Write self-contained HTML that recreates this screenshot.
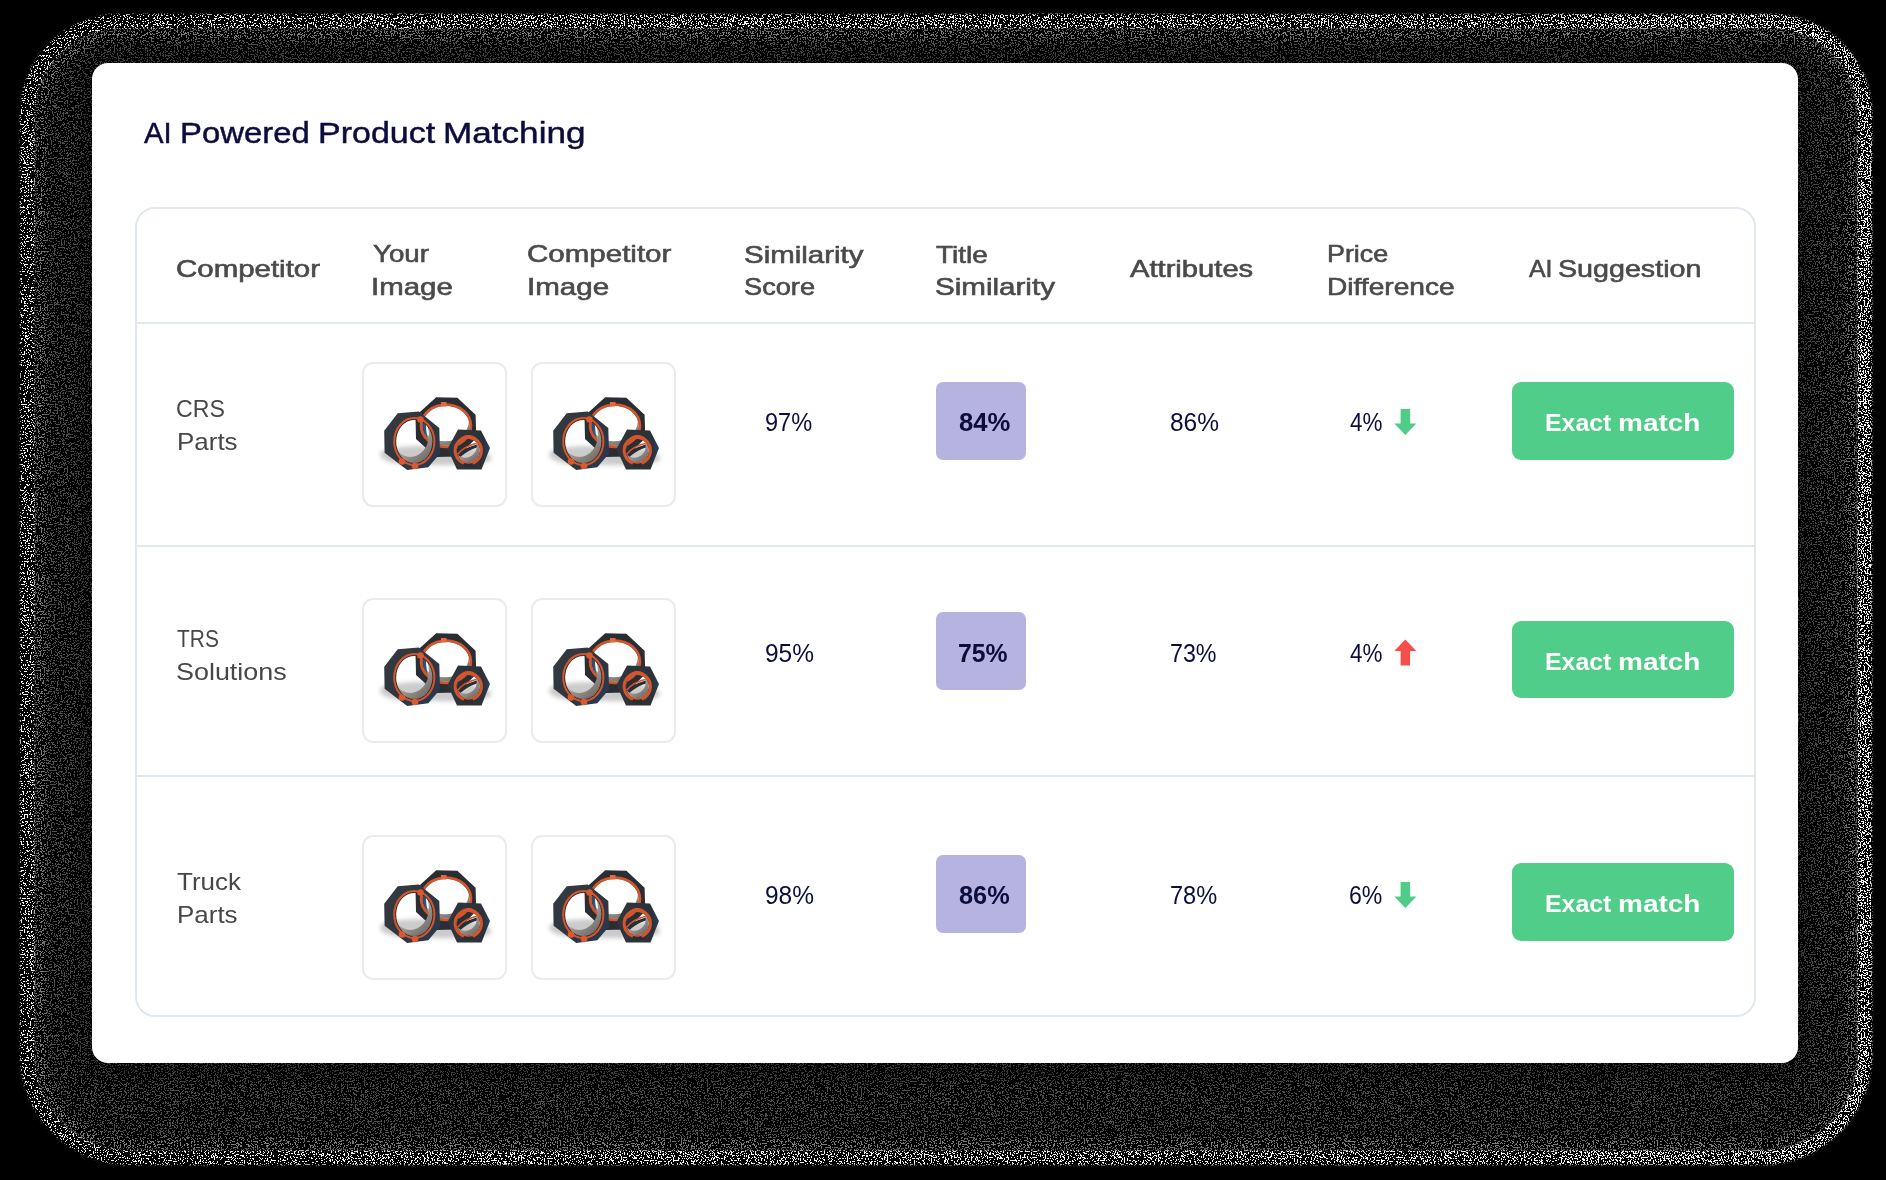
<!DOCTYPE html>
<html><head><meta charset="utf-8"><style>
html,body{margin:0;padding:0;background:#000;}
body{width:1886px;height:1180px;position:relative;overflow:hidden;font-family:"Liberation Sans",sans-serif;}
.card{position:absolute;left:92px;top:63px;width:1706px;height:1000px;background:#fff;border-radius:16px;}
.tbl{position:absolute;left:135px;top:207px;width:1621px;height:810px;box-sizing:border-box;border:2px solid #e2e8f0;border-radius:20px;}
.hl{position:absolute;left:137px;width:1617px;height:2px;background:#e2e8f0;}
.box{position:absolute;width:145px;height:145px;box-sizing:border-box;border:2px solid #e8ecef;border-radius:11px;background:#fff;}
.nut{position:absolute;}
.badge{position:absolute;left:935.5px;width:90.5px;height:78px;background:#b7b3e1;border-radius:7px;}
.btn{position:absolute;left:1512px;width:222px;height:77.7px;background:#51cd8a;border-radius:9px;}
.arr{position:absolute;}
.t{position:absolute;white-space:nowrap;line-height:1;transform-origin:0 0;font-family:"Liberation Sans",sans-serif;}
</style></head><body>
<svg style="position:absolute;left:0;top:0" width="1886" height="1180" viewBox="0 0 1886 1180">
<defs><clipPath id="zc0"><rect x="0" y="0" width="330" height="1180"/></clipPath><clipPath id="zc1"><rect x="330" y="0" width="1230" height="1180"/></clipPath><clipPath id="zc2"><rect x="1560" y="0" width="326" height="1180"/></clipPath><filter id="nzB" filterUnits="userSpaceOnUse" x="0" y="0" width="1886" height="1180" color-interpolation-filters="sRGB">
<feTurbulence type="fractalNoise" baseFrequency="0.7" numOctaves="2" seed="11" result="t"/>
<feColorMatrix in="t" type="matrix" values="0 0 0 0 0  0 0 0 0 0  0 0 0 0 0  1 0 0 0 0" result="na"/>
<feComponentTransfer in="na" result="mask"><feFuncA type="discrete" tableValues="0 0 0 0 0 0 0 0 0 0 0 0 0 0 0 0 0 0 0 0 0 0 0 1 1 1 1 1 1 1 1 1 1 1 1 1 1 1 1 1"/></feComponentTransfer>
<feComposite in="SourceGraphic" in2="mask" operator="in"/></filter><filter id="sb0" x="-5%" y="-5%" width="110%" height="110%" color-interpolation-filters="sRGB"><feGaussianBlur stdDeviation="2.5"/></filter><filter id="sb1" x="-5%" y="-5%" width="110%" height="110%" color-interpolation-filters="sRGB"><feGaussianBlur stdDeviation="4"/></filter><filter id="sb2" x="-5%" y="-5%" width="110%" height="110%" color-interpolation-filters="sRGB"><feGaussianBlur stdDeviation="8"/></filter><filter id="sbw" x="-5%" y="-5%" width="110%" height="110%" color-interpolation-filters="sRGB"><feGaussianBlur stdDeviation="1.2"/></filter><filter id="nzA0" filterUnits="userSpaceOnUse" x="0" y="0" width="1886" height="1180" color-interpolation-filters="sRGB">
<feTurbulence type="fractalNoise" baseFrequency="0.7" numOctaves="2" seed="5" result="t"/>
<feColorMatrix in="t" type="matrix" values="0 0 0 0 0  0 0 0 0 0  0 0 0 0 0  1 0 0 0 0" result="na"/>
<feComponentTransfer in="na" result="mask"><feFuncA type="discrete" tableValues="0 0 0 0 0 0 0 0 0 0 0 0 0 0 0 0 0 0 0 0 0 0 0 0 1 1 1 1 1 1 1 1 1 1 1 1 1 1 1 1"/></feComponentTransfer>
<feComposite in="SourceGraphic" in2="mask" operator="in"/></filter><filter id="nzA1" filterUnits="userSpaceOnUse" x="0" y="0" width="1886" height="1180" color-interpolation-filters="sRGB">
<feTurbulence type="fractalNoise" baseFrequency="0.7" numOctaves="2" seed="3" result="t"/>
<feColorMatrix in="t" type="matrix" values="0 0 0 0 0  0 0 0 0 0  0 0 0 0 0  1 0 0 0 0" result="na"/>
<feComponentTransfer in="na" result="mask"><feFuncA type="discrete" tableValues="0 0 0 0 0 0 0 0 0 0 0 0 0 0 0 0 0 0 0 0 0 0 0 1 1 1 1 1 1 1 1 1 1 1 1 1 1 1 1 1"/></feComponentTransfer>
<feComposite in="SourceGraphic" in2="mask" operator="in"/></filter><filter id="nzA2" filterUnits="userSpaceOnUse" x="0" y="0" width="1886" height="1180" color-interpolation-filters="sRGB">
<feTurbulence type="fractalNoise" baseFrequency="0.7" numOctaves="2" seed="17" result="t"/>
<feColorMatrix in="t" type="matrix" values="0 0 0 0 0  0 0 0 0 0  0 0 0 0 0  1 0 0 0 0" result="na"/>
<feComponentTransfer in="na" result="mask"><feFuncA type="discrete" tableValues="0 0 0 0 0 0 0 0 0 0 0 0 0 0 0 0 0 0 0 0 0 0 1 1 1 1 1 1 1 1 1 1 1 1 1 1 1 1 1 1"/></feComponentTransfer>
<feComposite in="SourceGraphic" in2="mask" operator="in"/></filter></defs>
<g clip-path="url(#zc0)"><g filter="url(#nzA0)"><path d="M120.0,14.0 H1772.0 A100.0,100.0 0 0 1 1872.0,114.0 V1055.0 A110.0,110.0 0 0 1 1762.0,1165.0 H130.0 A110.0,110.0 0 0 1 20.0,1055.0 V114.0 A100.0,100.0 0 0 1 120.0,14.0 Z M121.0,29.0 H1771.0 A86.0,86.0 0 0 1 1857.0,115.0 V1056.0 A94.0,94.0 0 0 1 1763.0,1150.0 H129.0 A94.0,94.0 0 0 1 35.0,1056.0 V115.0 A86.0,86.0 0 0 1 121.0,29.0 Z" fill-rule="evenodd" fill="#fff" filter="url(#sbw)"/></g></g><g clip-path="url(#zc1)"><g filter="url(#nzA1)"><path d="M120.0,14.0 H1772.0 A100.0,100.0 0 0 1 1872.0,114.0 V1055.0 A110.0,110.0 0 0 1 1762.0,1165.0 H130.0 A110.0,110.0 0 0 1 20.0,1055.0 V114.0 A100.0,100.0 0 0 1 120.0,14.0 Z M121.0,29.0 H1771.0 A86.0,86.0 0 0 1 1857.0,115.0 V1056.0 A94.0,94.0 0 0 1 1763.0,1150.0 H129.0 A94.0,94.0 0 0 1 35.0,1056.0 V115.0 A86.0,86.0 0 0 1 121.0,29.0 Z" fill-rule="evenodd" fill="#fff" filter="url(#sbw)"/></g></g><g clip-path="url(#zc2)"><g filter="url(#nzA2)"><path d="M120.0,14.0 H1772.0 A100.0,100.0 0 0 1 1872.0,114.0 V1055.0 A110.0,110.0 0 0 1 1762.0,1165.0 H130.0 A110.0,110.0 0 0 1 20.0,1055.0 V114.0 A100.0,100.0 0 0 1 120.0,14.0 Z M121.0,29.0 H1771.0 A86.0,86.0 0 0 1 1857.0,115.0 V1056.0 A94.0,94.0 0 0 1 1763.0,1150.0 H129.0 A94.0,94.0 0 0 1 35.0,1056.0 V115.0 A86.0,86.0 0 0 1 121.0,29.0 Z" fill-rule="evenodd" fill="#fff" filter="url(#sbw)"/></g></g><g filter="url(#nzB)"><path d="M121.0,29.0 H1771.0 A86.0,86.0 0 0 1 1857.0,115.0 V1056.0 A94.0,94.0 0 0 1 1763.0,1150.0 H129.0 A94.0,94.0 0 0 1 35.0,1056.0 V115.0 A86.0,86.0 0 0 1 121.0,29.0 Z" fill="rgb(138,138,138)" filter="url(#sb0)"/><path d="M122.0,38.0 H1770.0 A78.0,78.0 0 0 1 1848.0,116.0 V1056.0 A84.0,84.0 0 0 1 1764.0,1140.0 H128.0 A84.0,84.0 0 0 1 44.0,1056.0 V116.0 A78.0,78.0 0 0 1 122.0,38.0 Z" fill="rgb(77,77,77)" filter="url(#sb1)"/><path d="M108.0,52.0 H1782.0 A30.0,30.0 0 0 1 1812.0,82.0 V1044.0 A36.0,36.0 0 0 1 1776.0,1080.0 H114.0 A36.0,36.0 0 0 1 78.0,1044.0 V82.0 A30.0,30.0 0 0 1 108.0,52.0 Z" fill="rgb(54,54,54)" filter="url(#sb2)"/></g>
</svg>
<div class="card"></div>
<div class="tbl"></div>
<div class="hl" style="top:322px"></div>
<div class="hl" style="top:544.5px"></div>
<div class="hl" style="top:775px"></div>
<div class="box" style="left:362.0px;top:361.5px"></div><svg class="nut" style="left:362.0px;top:361.5px" width="145" height="145" viewBox="0 0 145 145"><use href="#nut"/></svg><div class="box" style="left:530.5px;top:361.5px"></div><svg class="nut" style="left:530.5px;top:361.5px" width="145" height="145" viewBox="0 0 145 145"><use href="#nut"/></svg><div class="box" style="left:362.0px;top:598.3px"></div><svg class="nut" style="left:362.0px;top:598.3px" width="145" height="145" viewBox="0 0 145 145"><use href="#nut"/></svg><div class="box" style="left:530.5px;top:598.3px"></div><svg class="nut" style="left:530.5px;top:598.3px" width="145" height="145" viewBox="0 0 145 145"><use href="#nut"/></svg><div class="box" style="left:362.0px;top:835.0px"></div><svg class="nut" style="left:362.0px;top:835.0px" width="145" height="145" viewBox="0 0 145 145"><use href="#nut"/></svg><div class="box" style="left:530.5px;top:835.0px"></div><svg class="nut" style="left:530.5px;top:835.0px" width="145" height="145" viewBox="0 0 145 145"><use href="#nut"/></svg>
<div class="badge" style="top:381.7px"></div><div class="badge" style="top:612.3px"></div><div class="badge" style="top:854.8px"></div>
<div class="btn" style="top:382.1px"></div><div class="btn" style="top:620.5px"></div><div class="btn" style="top:863.3px"></div>
<svg class="arr" style="left:1394px;top:408.8px" width="23" height="27" viewBox="0 0 23 27"><path d="M6.6 0H16.1V14.6H22.4L11.3 26.1L0.3 14.6H6.6Z" fill="#4fcd88"/></svg><svg class="arr" style="left:1394px;top:639.2px" width="23" height="27" viewBox="0 0 23 27"><path d="M6.6 26.6H16.1V12H22.4L11.3 0.5L0.3 12H6.6Z" fill="#f74d4d"/></svg><svg class="arr" style="left:1394px;top:882.0px" width="23" height="27" viewBox="0 0 23 27"><path d="M6.6 0H16.1V14.6H22.4L11.3 26.1L0.3 14.6H6.6Z" fill="#4fcd88"/></svg>
<span class="t" style="left:144.30px;top:119.00px;font-size:29px;font-weight:400;color:#0c0d3d;transform:scaleX(1.0101);-webkit-text-stroke:0.45px #0c0d3d;">AI</span><span class="t" style="left:179.83px;top:119.00px;font-size:29px;font-weight:400;color:#0c0d3d;transform:scaleX(1.1336);-webkit-text-stroke:0.45px #0c0d3d;">Powered</span><span class="t" style="left:317.56px;top:119.00px;font-size:29px;font-weight:400;color:#0c0d3d;transform:scaleX(1.1718);-webkit-text-stroke:0.45px #0c0d3d;">Product</span><span class="t" style="left:442.98px;top:119.00px;font-size:29px;font-weight:400;color:#0c0d3d;transform:scaleX(1.2109);-webkit-text-stroke:0.45px #0c0d3d;">Matching</span><span class="t" style="left:175.97px;top:257.00px;font-size:24px;font-weight:400;color:#4a4a4a;transform:scaleX(1.2270);-webkit-text-stroke:0.6px #4a4a4a;">Competitor</span><span class="t" style="left:372.60px;top:242.30px;font-size:24px;font-weight:400;color:#4a4a4a;transform:scaleX(1.1546);-webkit-text-stroke:0.6px #4a4a4a;">Your</span><span class="t" style="left:371.05px;top:275.30px;font-size:24px;font-weight:400;color:#4a4a4a;transform:scaleX(1.2260);-webkit-text-stroke:0.6px #4a4a4a;">Image</span><span class="t" style="left:527.47px;top:242.30px;font-size:24px;font-weight:400;color:#4a4a4a;transform:scaleX(1.2296);-webkit-text-stroke:0.6px #4a4a4a;">Competitor</span><span class="t" style="left:527.14px;top:275.30px;font-size:24px;font-weight:400;color:#4a4a4a;transform:scaleX(1.2307);-webkit-text-stroke:0.6px #4a4a4a;">Image</span><span class="t" style="left:743.87px;top:242.50px;font-size:24px;font-weight:400;color:#4a4a4a;transform:scaleX(1.2270);-webkit-text-stroke:0.6px #4a4a4a;">Similarity</span><span class="t" style="left:743.97px;top:275.40px;font-size:24px;font-weight:400;color:#4a4a4a;transform:scaleX(1.1329);-webkit-text-stroke:0.6px #4a4a4a;">Score</span><span class="t" style="left:936.20px;top:242.50px;font-size:24px;font-weight:400;color:#4a4a4a;transform:scaleX(1.1632);-webkit-text-stroke:0.6px #4a4a4a;">Title</span><span class="t" style="left:934.97px;top:275.40px;font-size:24px;font-weight:400;color:#4a4a4a;transform:scaleX(1.2321);-webkit-text-stroke:0.6px #4a4a4a;">Similarity</span><span class="t" style="left:1129.50px;top:256.80px;font-size:24px;font-weight:400;color:#4a4a4a;transform:scaleX(1.2152);-webkit-text-stroke:0.6px #4a4a4a;">Attributes</span><span class="t" style="left:1326.78px;top:242.30px;font-size:24px;font-weight:400;color:#4a4a4a;transform:scaleX(1.1194);-webkit-text-stroke:0.6px #4a4a4a;">Price</span><span class="t" style="left:1326.73px;top:275.40px;font-size:24px;font-weight:400;color:#4a4a4a;transform:scaleX(1.1719);-webkit-text-stroke:0.6px #4a4a4a;">Difference</span><span class="t" style="left:1529.30px;top:257.20px;font-size:24px;font-weight:400;color:#4a4a4a;transform:scaleX(1.0329);-webkit-text-stroke:0.6px #4a4a4a;">AI</span><span class="t" style="left:1557.61px;top:257.20px;font-size:24px;font-weight:400;color:#4a4a4a;transform:scaleX(1.1941);-webkit-text-stroke:0.6px #4a4a4a;">Suggestion</span><span class="t" style="left:176.24px;top:396.70px;font-size:24px;font-weight:400;color:#474747;transform:scaleX(0.9638);">CRS</span><span class="t" style="left:176.82px;top:429.80px;font-size:24px;font-weight:400;color:#474747;transform:scaleX(1.0815);">Parts</span><span class="t" style="left:177.20px;top:626.90px;font-size:24px;font-weight:400;color:#474747;transform:scaleX(0.8725);">TRS</span><span class="t" style="left:176.48px;top:659.80px;font-size:24px;font-weight:400;color:#474747;transform:scaleX(1.1215);">Solutions</span><span class="t" style="left:177.20px;top:870.00px;font-size:24px;font-weight:400;color:#474747;transform:scaleX(1.0814);">Truck</span><span class="t" style="left:176.82px;top:902.70px;font-size:24px;font-weight:400;color:#474747;transform:scaleX(1.0815);">Parts</span><span class="t" style="left:764.96px;top:410.30px;font-size:25px;font-weight:400;color:#0c0d3d;transform:scaleX(0.9425);">97%</span><span class="t" style="left:959.20px;top:410.30px;font-size:25px;font-weight:700;color:#0c0d3d;transform:scaleX(1.0259);">84%</span><span class="t" style="left:1170.22px;top:410.30px;font-size:25px;font-weight:400;color:#0c0d3d;transform:scaleX(0.9794);">86%</span><span class="t" style="left:1349.90px;top:410.10px;font-size:25px;font-weight:400;color:#0c0d3d;transform:scaleX(0.8968);">4%</span><span class="t" style="left:764.92px;top:640.90px;font-size:25px;font-weight:400;color:#0c0d3d;transform:scaleX(0.9794);">95%</span><span class="t" style="left:957.91px;top:640.90px;font-size:25px;font-weight:700;color:#0c0d3d;transform:scaleX(0.9916);">75%</span><span class="t" style="left:1169.67px;top:640.90px;font-size:25px;font-weight:400;color:#0c0d3d;transform:scaleX(0.9302);">73%</span><span class="t" style="left:1349.90px;top:640.70px;font-size:25px;font-weight:400;color:#0c0d3d;transform:scaleX(0.8968);">4%</span><span class="t" style="left:764.92px;top:883.40px;font-size:25px;font-weight:400;color:#0c0d3d;transform:scaleX(0.9794);">98%</span><span class="t" style="left:959.00px;top:883.40px;font-size:25px;font-weight:700;color:#0c0d3d;transform:scaleX(1.0119);">86%</span><span class="t" style="left:1169.66px;top:883.40px;font-size:25px;font-weight:400;color:#0c0d3d;transform:scaleX(0.9425);">78%</span><span class="t" style="left:1348.98px;top:883.20px;font-size:25px;font-weight:400;color:#0c0d3d;transform:scaleX(0.9225);">6%</span><span class="t" style="left:1544.96px;top:411.00px;font-size:24px;font-weight:700;color:#ffffff;transform:scaleX(1.0357);">Exact</span><span class="t" style="left:1618.23px;top:411.00px;font-size:24px;font-weight:700;color:#ffffff;transform:scaleX(1.1662);">match</span><span class="t" style="left:1544.96px;top:650.00px;font-size:24px;font-weight:700;color:#ffffff;transform:scaleX(1.0357);">Exact</span><span class="t" style="left:1618.23px;top:650.00px;font-size:24px;font-weight:700;color:#ffffff;transform:scaleX(1.1662);">match</span><span class="t" style="left:1544.96px;top:892.30px;font-size:24px;font-weight:700;color:#ffffff;transform:scaleX(1.0357);">Exact</span><span class="t" style="left:1618.23px;top:892.30px;font-size:24px;font-weight:700;color:#ffffff;transform:scaleX(1.1662);">match</span>
<svg width="0" height="0" style="position:absolute"><defs><symbol id="nut" viewBox="0 0 145 145">
<defs>
<filter id="nb" x="-20%" y="-50%" width="140%" height="200%" color-interpolation-filters="sRGB"><feGaussianBlur stdDeviation="2.2"/></filter>
<filter id="soft" x="-5%" y="-5%" width="110%" height="110%" color-interpolation-filters="sRGB"><feGaussianBlur stdDeviation="0.45"/></filter>
<linearGradient id="fg" x1="0" y1="0" x2="1" y2="1"><stop offset="0" stop-color="#363b42"/><stop offset="0.5" stop-color="#30363d"/><stop offset="1" stop-color="#273a55"/></linearGradient>
<linearGradient id="sv" x1="0" y1="0" x2="0.7" y2="1"><stop offset="0" stop-color="#ece9e5"/><stop offset="0.5" stop-color="#b3aea8"/><stop offset="1" stop-color="#75706b"/></linearGradient>
<linearGradient id="hg" x1="0" y1="0" x2="1" y2="0"><stop offset="0" stop-color="#30353c"/><stop offset="0.85" stop-color="#2c3239"/><stop offset="1" stop-color="#2b4262"/></linearGradient>
<linearGradient id="bl" x1="0" y1="0" x2="1" y2="0"><stop offset="0" stop-color="#22334d"/><stop offset="1" stop-color="#4a6f9c"/></linearGradient>
<clipPath id="cB"><path d="M60.2,63.8 a23.8,20 0 1 0 47.6,0 a23.8,20 0 1 0 -47.6,0 Z"/></clipPath>
<clipPath id="cF"><path d="M33.699999999999996,79.5 a18.6,22 0 1 0 37.2,0 a18.6,22 0 1 0 -37.2,0 Z"/></clipPath>
<clipPath id="cS"><path d="M94.89999999999999,88.5 a11.4,11.8 0 1 0 22.8,0 a11.4,11.8 0 1 0 -22.8,0 Z"/></clipPath>
</defs>
<g filter="url(#soft)">
<path d="M20,89 C30,84 60,83 92,85 C116,86 131,90 129,98 C121,104 80,104 40,102 C24,101 14,95 20,89 Z" fill="#cbcbcb" filter="url(#nb)"/>
<!-- back nut -->
<path d="M74.2,35.3 L95.4,35.7 L113.6,52.8 L114.3,76 L96,94.5 L74,95 L54,77 L53.5,54 Z M60.2,63.8 a23.8,20 0 1 0 47.6,0 a23.8,20 0 1 0 -47.6,0 Z" fill="#2a2e33" fill-rule="evenodd"/>
<g clip-path="url(#cB)">
<path d="M60.2,63.8 a23.8,20 0 1 0 47.6,0 a23.8,20 0 1 0 -47.6,0 Z M59.2,59.3 a23.8,20 0 1 0 47.6,0 a23.8,20 0 1 0 -47.6,0 Z" fill-rule="evenodd" fill="url(#sv)"/>
<path d="M58,62 C59,59 61,57.5 64.5,57 C63.5,64 64,73 68,84 C62,78 58,71 58,62 Z" fill="url(#bl)"/>
</g>
<path d="M70,86 C80,89 95,89 104,84 L104.5,87.5 C96,93 80,93 70,89.5 Z" fill="#2a2e33" opacity="0.9"/>
<ellipse cx="84" cy="63.8" rx="25.0" ry="21.2" fill="none" stroke="#d4552c" stroke-width="2.6"/>
<rect x="79" y="40" width="5.5" height="4.5" fill="#e26a3e"/>
<!-- front-left nut -->
<path d="M35.7,51.3 L56.8,49.5 L77.3,65.9 L78,91.5 L66.3,105.3 L45.2,107.9 L22.6,90.7 L22.2,68.8 Z M33.699999999999996,79.5 a18.6,22 0 1 0 37.2,0 a18.6,22 0 1 0 -37.2,0 Z" fill="url(#fg)" fill-rule="evenodd"/>
<g clip-path="url(#cF)">
<path d="M33.699999999999996,79.5 a18.6,22 0 1 0 37.2,0 a18.6,22 0 1 0 -37.2,0 Z M29.699999999999996,73.0 a18.6,22 0 1 0 37.2,0 a18.6,22 0 1 0 -37.2,0 Z" fill-rule="evenodd" fill="url(#sv)"/>
</g>
<ellipse cx="52.3" cy="79.5" rx="19.900000000000002" ry="23.3" fill="none" stroke="#d4552c" stroke-width="2.4"/>
<ellipse cx="52.3" cy="79.5" rx="18.6" ry="22" fill="none" stroke="#1b1d20" stroke-width="0.8"/>
<circle cx="58.5" cy="57.5" r="3.3" fill="#d95a30"/>
<circle cx="40" cy="99.5" r="3.3" fill="#d95a30"/>
<circle cx="53" cy="104" r="3.3" fill="#d95a30"/>
<!-- small hex -->
<path d="M96,67.5 L119,68.5 L128,86 L119.5,107.5 L95,107.5 L85.5,87 Z M94.89999999999999,88.5 a11.4,11.8 0 1 0 22.8,0 a11.4,11.8 0 1 0 -22.8,0 Z" fill="url(#hg)" fill-rule="evenodd"/>
<g clip-path="url(#cS)">
<path d="M93,95.5 C99,88 107,84 121,81 L121,83.8 C109,86.5 101,91.5 95.5,98.5 Z" fill="#2a2e33"/>
<path d="M95,93 C100,86 108,82.5 118,80.5" fill="none" stroke="#d4552c" stroke-width="1.5"/>
<path d="M94.89999999999999,88.5 a11.4,11.8 0 1 0 22.8,0 a11.4,11.8 0 1 0 -22.8,0 Z M91.89999999999999,84.0 a11.4,11.8 0 1 0 22.8,0 a11.4,11.8 0 1 0 -22.8,0 Z" fill-rule="evenodd" fill="url(#sv)"/>
</g>
<circle cx="106.3" cy="88.5" r="13.200000000000001" fill="none" stroke="#d4552c" stroke-width="3"/>
<path d="M101.5,102.6 A13.3,13.3 0 0 0 111.1,102.6" fill="none" stroke="#2a2e33" stroke-width="3.4"/>
<path d="M95.5,79.5 C99,74.5 103,73 106.3,73 C110,73 114,74.5 117.5,79.5 L115,80.5 C112,78 109,77 106.3,77 C104,77 101,78 98,80.5 Z" fill="#d4552c"/>
</g>
</symbol></defs></svg>
</body></html>
